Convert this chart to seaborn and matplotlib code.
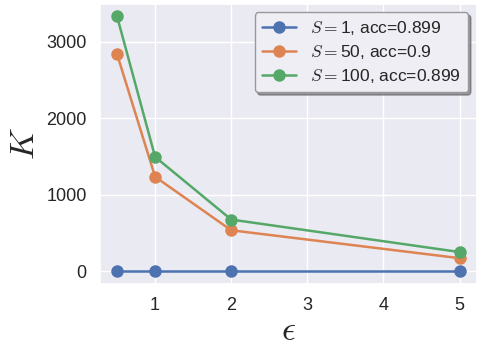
import matplotlib
matplotlib.use('Agg')
import matplotlib.pyplot as plt
import seaborn as sns
import pandas as pd

sns.set_theme(style='darkgrid')
plt.rcParams['font.family'] = ['Liberation Sans', 'DejaVu Sans']
plt.rcParams['mathtext.fontset'] = 'cm'

eps = [0.5, 1, 2, 5]
k_s1 = [0, 0, 0, 0]
k_s50 = [2840, 1235, 535, 170]
k_s100 = [3335, 1495, 675, 250]
labels = [r'$S=$1, acc=0.899', r'$S=$50, acc=0.9', r'$S=$100, acc=0.899']

rows = []
for lab, ks in zip(labels, [k_s1, k_s50, k_s100]):
    for e, k in zip(eps, ks):
        rows.append({'eps': e, 'K': k, 'run': lab})
df = pd.DataFrame(rows)

fig, ax = plt.subplots(figsize=(4.85, 3.54), dpi=100)
sns.lineplot(data=df, x='eps', y='K', hue='run', marker='o', markersize=9,
             markeredgewidth=0, linewidth=1.8, ax=ax)

ax.set_xticks([1, 2, 3, 4, 5])
ax.set_yticks([0, 1000, 2000, 3000])
ax.tick_params(labelsize=13)
ax.set_xlabel(r'$\epsilon$', fontsize=25, labelpad=0)
ax.set_ylabel(r'$K$', fontsize=25)
ax.legend(title=None, fontsize=12.5, shadow=True, frameon=True,
          facecolor='#EEEEF4', edgecolor='#999999', loc='upper right',
          labelspacing=0.35)

fig.subplots_adjust(left=0.206, right=0.983, top=0.99, bottom=0.198)
fig.savefig('out.png', dpi=100)
